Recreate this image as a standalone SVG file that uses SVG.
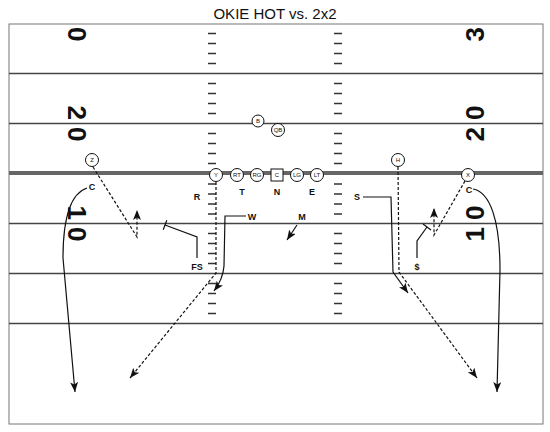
<svg xmlns="http://www.w3.org/2000/svg" width="550" height="432" viewBox="0 0 550 432">
<style>
.ln{stroke:#444;stroke-width:1.3;fill:none}
.hash{stroke:#333;stroke-width:1.3;fill:none}
.num{font-family:"Liberation Sans",Arial,sans-serif;font-weight:bold;font-size:26px;fill:#111;text-anchor:middle}
.pc{fill:#fff;stroke:#111;stroke-width:1}
.pt{font-family:"Liberation Sans",Arial,sans-serif;font-size:6px;text-anchor:middle;fill:#111}
.lbl{font-family:"Liberation Sans",Arial,sans-serif;font-weight:bold;font-size:9px;text-anchor:middle;fill:#111}
.rt{fill:none;stroke:#111;stroke-width:1.2}
.ds{stroke-dasharray:3 2}
</style>
<defs>
<clipPath id="fc"><rect x="9" y="24" width="534" height="400"/></clipPath>
<marker id="ah" viewBox="0 0 10 8" refX="10" refY="4" markerWidth="10" markerHeight="8" orient="auto" markerUnits="userSpaceOnUse"><path d="M0,0 L10,4 L0,8 L2.5,4 z" fill="#111"/></marker>
</defs>
<rect width="550" height="432" fill="#fff"/>
<text x="275" y="19" font-family="'Liberation Sans',Arial,sans-serif" font-size="15" text-anchor="middle" fill="#111">OKIE HOT vs. 2x2</text>
<g id="field">
<rect x="9" y="24" width="534" height="400" fill="none" stroke="#777" stroke-width="1"/>
<path class="ln" d="M9,73.5H543M9,123.5H543M9,223.5H543M9,273.5H543M9,323.5H543"/>
<path d="M9,173H543" stroke="#666" stroke-width="4"/>
<path class="hash" d="M208,33.5h8M208,43.5h8M208,53.5h8M208,63.5h8M208,83.5h8M208,93.5h8M208,103.5h8M208,113.5h8M208,133.5h8M208,143.5h8M208,153.5h8M208,163.5h8M208,184h8M208,194h8M208,204h8M208,214h8M208,233.5h8M208,243.5h8M208,253.5h8M208,263.5h8M208,283.5h8M208,293.5h8M208,303.5h8M208,313.5h8"/>
<path class="hash" d="M334,33.5h8M334,43.5h8M334,53.5h8M334,63.5h8M334,83.5h8M334,93.5h8M334,103.5h8M334,113.5h8M334,133.5h8M334,143.5h8M334,153.5h8M334,163.5h8M334,184h8M334,194h8M334,204h8M334,214h8M334,233.5h8M334,243.5h8M334,253.5h8M334,263.5h8M334,283.5h8M334,293.5h8M334,303.5h8M334,313.5h8"/>
<g clip-path="url(#fc)">
<text class="num" transform="translate(77,23.5) rotate(90)" y="9.5"><tspan x="-10.75">3</tspan><tspan x="10.75">0</tspan></text>
<text class="num" transform="translate(77,123.5) rotate(90)" y="9.5"><tspan x="-10.75">2</tspan><tspan x="10.75">0</tspan></text>
<text class="num" transform="translate(77,223.5) rotate(90)" y="9.5"><tspan x="-10.75">1</tspan><tspan x="10.75">0</tspan></text>
<text class="num" transform="translate(474,23.5) rotate(-90)" y="9.5"><tspan x="-10.75">3</tspan><tspan x="10.75">0</tspan></text>
<text class="num" transform="translate(474,123.5) rotate(-90)" y="9.5"><tspan x="-10.75">2</tspan><tspan x="10.75">0</tspan></text>
<text class="num" transform="translate(474,223.5) rotate(-90)" y="9.5"><tspan x="-10.75">1</tspan><tspan x="10.75">0</tspan></text>
</g>
</g>
<g id="connectors">
<path class="rt ds" d="M93,167 L137,237 L137,210" marker-end="url(#ah)"/>
<path class="rt" d="M87,188 C72,193 63,215 63,258 L75,392" marker-end="url(#ah)"/>
<path class="rt" d="M197,258 L197,237 L165,225 M166.8,220.3 L163.2,229.7"/>
<path class="rt ds" d="M216,182 L216,273 L130,378" marker-end="url(#ah)"/>
<path class="rt" d="M246,216 L225,216 L224,266 Q223,279 214,291" marker-end="url(#ah)"/>
<path class="rt" d="M297,225 L287,240" marker-end="url(#ah)"/>
<path class="rt ds" d="M398,167 L399,272 L477,378" marker-end="url(#ah)"/>
<path class="rt" d="M363,197 L391,197 L393,272 L408,293" marker-end="url(#ah)"/>
<path class="rt" d="M417,258 L417,241 L427,227 M423,224 L431,230"/>
<path class="rt ds" d="M465,181 L434,235 L434,208" marker-end="url(#ah)"/>
<path class="rt" d="M473,189 C490,192 500,220 500,270 L497,392" marker-end="url(#ah)"/>
</g>
<g id="B"><circle class="pc" cx="258" cy="121" r="6"/><text class="pt" x="258" y="123">B</text></g>
<g id="QB"><circle class="pc" cx="278" cy="130" r="6.5"/><text class="pt" x="278" y="132">QB</text></g>
<g id="Y"><circle class="pc" cx="216" cy="175" r="6.5"/><text class="pt" x="216" y="177">Y</text></g>
<g id="RT"><circle class="pc" cx="237" cy="175" r="6.5"/><text class="pt" x="237" y="177">RT</text></g>
<g id="RG"><circle class="pc" cx="257" cy="175" r="6.5"/><text class="pt" x="257" y="177">RG</text></g>
<g id="C"><rect class="pc" x="271" y="169" width="12" height="12"/><text class="pt" x="277" y="177">C</text></g>
<g id="LG"><circle class="pc" cx="297" cy="175" r="6.5"/><text class="pt" x="297" y="177">LG</text></g>
<g id="LT"><circle class="pc" cx="317" cy="175" r="6.5"/><text class="pt" x="317" y="177">LT</text></g>
<g id="Z"><circle class="pc" cx="92" cy="160" r="6.5"/><text class="pt" x="92" y="162">Z</text></g>
<g id="H"><circle class="pc" cx="398" cy="160" r="6.5"/><text class="pt" x="398" y="162">H</text></g>
<g id="X"><circle class="pc" cx="468" cy="175" r="6.5"/><text class="pt" x="468" y="177">X</text></g>
<g id="def-T"><text class="lbl" x="242" y="195">T</text></g>
<g id="def-N"><text class="lbl" x="277" y="195">N</text></g>
<g id="def-E"><text class="lbl" x="312" y="195">E</text></g>
<g id="def-R"><text class="lbl" x="197" y="200">R</text></g>
<g id="def-W"><text class="lbl" x="252" y="220">W</text></g>
<g id="def-M"><text class="lbl" x="302" y="220">M</text></g>
<g id="def-FS"><text class="lbl" x="197" y="270">FS</text></g>
<g id="def-S"><text class="lbl" x="357" y="200">S</text></g>
<g id="def-SS"><text class="lbl" x="417" y="270">$</text></g>
<g id="def-CL"><text class="lbl" x="92" y="190">C</text></g>
<g id="def-CR"><text class="lbl" x="469" y="193">C</text></g>
</svg>
